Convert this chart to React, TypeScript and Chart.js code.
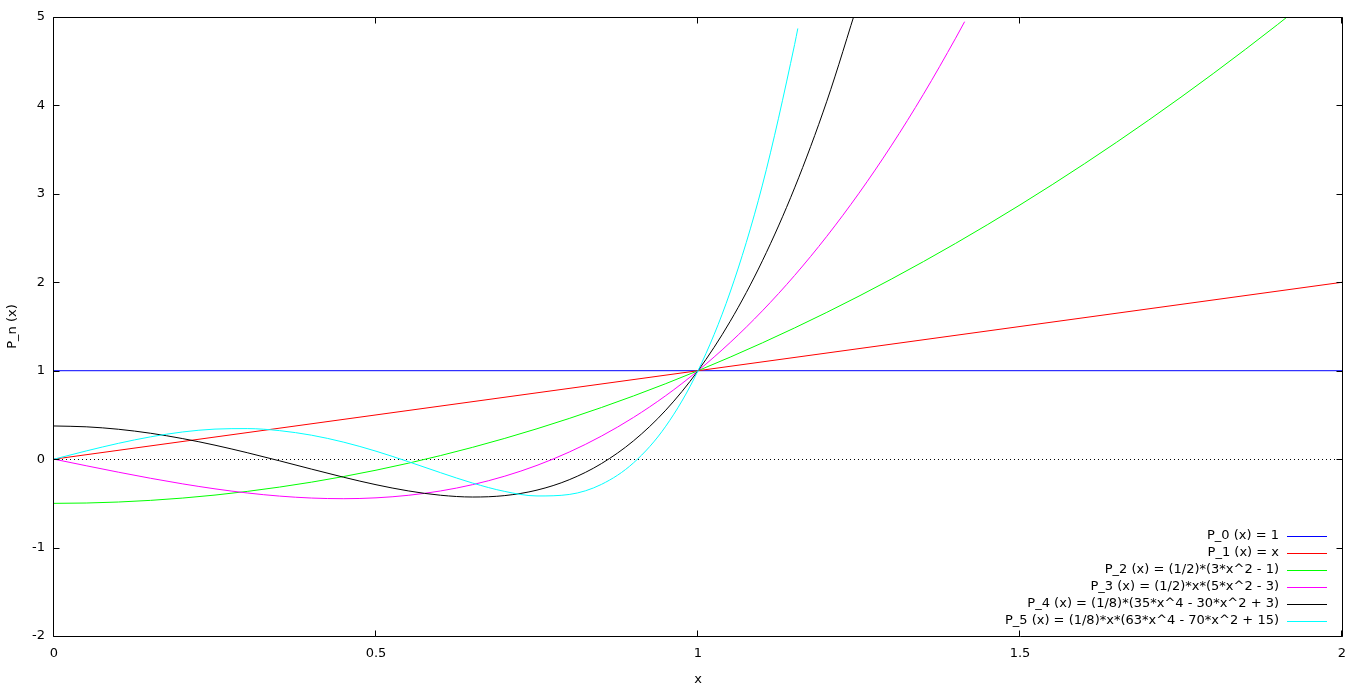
import React, { useEffect, useRef } from "react";
import { Chart, registerables } from "chart.js";

Chart.register(...registerables);

const FONT = '"DejaVu Sans", sans-serif';

// Sample abscissae (step 0.05)
const xSamples = [
  0, 0.05, 0.1, 0.15, 0.2, 0.25, 0.3, 0.35, 0.4, 0.45, 0.5, 0.55, 0.6, 0.65, 0.7, 0.75, 0.8, 0.85, 0.9, 0.95,
  1, 1.05, 1.1, 1.15, 1.2, 1.25, 1.3, 1.35, 1.4, 1.45, 1.5, 1.55, 1.6, 1.65, 1.7, 1.75, 1.8, 1.85, 1.9, 1.95,
];

const seriesLabels = [
  "P_0 (x) = 1",
  "P_1 (x) = x",
  "P_2 (x) = (1/2)*(3*x^2 - 1)",
  "P_3 (x) = (1/2)*x*(5*x^2 - 3)",
  "P_4 (x) = (1/8)*(35*x^4 - 30*x^2 + 3)",
  "P_5 (x) = (1/8)*x*(63*x^4 - 70*x^2 + 15)",
];
const seriesColors = ["#0000ff", "#ff0000", "#00ff00", "#ff00ff", "#000000", "#00ffff"];

const p0X = [0, 2];
const p0Values = [1, 1];

const p1X = [0, 2];
const p1Values = [0, 2];

const p2X = xSamples;
const p2Values = [
  -0.5, -0.49625, -0.485, -0.46625, -0.44, -0.40625, -0.365, -0.31625, -0.26, -0.19625, -0.125, -0.04625, 0.04,
  0.13375, 0.235, 0.34375, 0.46, 0.58375, 0.715, 0.85375, 1, 1.15375, 1.315, 1.48375, 1.66, 1.84375, 2.035,
  2.23375, 2.44, 2.65375, 2.875, 3.10375, 3.34, 3.58375, 3.835, 4.09375, 4.36, 4.63375, 4.915, 5.20375,
];

const p3X = [...xSamples.slice(0, 29), 1.414];
const p3Values = [
  0, -0.0747, -0.1475, -0.2166, -0.28, -0.3359, -0.3825, -0.4178, -0.44, -0.4472, -0.4375, -0.4091, -0.36, -0.2884,
  -0.1925, -0.0703, 0.08, 0.2603, 0.4725, 0.7184, 1, 1.3191, 1.6775, 2.0772, 2.52, 3.0078, 3.5425, 4.1259, 4.76,
  4.947,
];

const p4X = xSamples.slice(0, 26);
const p4Values = [
  0.375, 0.3657, 0.3379, 0.2928, 0.232, 0.1577, 0.0729, -0.0187, -0.113, -0.205, -0.2891, -0.359, -0.408, -0.4284,
  -0.4121, -0.3501, -0.233, -0.0506, 0.2079, 0.5541, 1, 1.5585, 2.2429, 3.0675, 4.047, 5.1968,
];

const p5X = [...xSamples.slice(0, 24), 1.155];
const p5Values = [
  0, 0.0927, 0.1788, 0.2523, 0.3075, 0.3397, 0.3454, 0.3225, 0.2706, 0.1917, 0.0898, -0.0282, -0.1526, -0.2705,
  -0.3652, -0.4164, -0.3995, -0.2857, -0.0411, 0.3727, 1, 1.8902, 3.099, 4.688, 4.8704,
];

const xTicks = [0, 0.5, 1, 1.5, 2];
const yTicks = [-2, -1, 0, 1, 2, 3, 4, 5];

const seriesX = [p0X, p1X, p2X, p3X, p4X, p5X];
const seriesY = [p0Values, p1Values, p2Values, p3Values, p4Values, p5Values];

const framePlugin = {
  id: "gnuframe",
  beforeDatasetsDraw(chart: any) {
    const { ctx, chartArea: a, scales } = chart;
    const y0 = Math.round(scales.y.getPixelForValue(0)) + 0.5;
    ctx.save();
    ctx.strokeStyle = "#000";
    ctx.lineWidth = 1;
    ctx.setLineDash([1, 3]);
    ctx.beginPath();
    ctx.moveTo(a.left, y0);
    ctx.lineTo(a.right, y0);
    ctx.stroke();
    ctx.restore();
  },
  afterDraw(chart: any) {
    const { ctx, chartArea: a, scales } = chart;
    ctx.save();
    ctx.strokeStyle = "#000";
    ctx.lineWidth = 1;
    ctx.setLineDash([]);
    const L = a.left - 0.5, R = a.right + 0.5, T = a.top + 0.5, B = a.bottom + 0.5;
    ctx.beginPath();
    ctx.rect(L, T, R - L, B - T);
    ctx.stroke();
    const tl = 6;
    ctx.beginPath();
    for (const v of yTicks) {
      const py = Math.round(scales.y.getPixelForValue(v)) + 0.5;
      ctx.moveTo(L, py); ctx.lineTo(L + tl, py);
      ctx.moveTo(R, py); ctx.lineTo(R - tl, py);
    }
    for (const v of xTicks) {
      const px = Math.round(scales.x.getPixelForValue(v)) - 0.5;
      ctx.moveTo(px, B); ctx.lineTo(px, B - tl);
      ctx.moveTo(px, T); ctx.lineTo(px, T + tl);
    }
    ctx.stroke();

    // legend
    const n = chart.data.datasets.length;
    ctx.font = `13px ${FONT}`;
    ctx.textAlign = "right";
    ctx.textBaseline = "middle";
    ctx.fillStyle = "#000";
    chart.data.datasets.forEach((ds: any, i: number) => {
      const y = a.bottom - 15 - (n - 1 - i) * 17;
      ctx.fillText(ds.label, a.right - 63, y);
      ctx.strokeStyle = ds.borderColor;
      ctx.beginPath();
      ctx.moveTo(a.right - 55, Math.round(y) + 0.5);
      ctx.lineTo(a.right - 15, Math.round(y) + 0.5);
      ctx.stroke();
    });
    ctx.restore();
  },
};

export default function App() {
  const ref = useRef<HTMLCanvasElement | null>(null);
  useEffect(() => {
    if (!ref.current) return;
    const datasets = seriesLabels.map((label, i) => ({
      label,
      data: seriesX[i].map((x, k) => ({ x, y: seriesY[i][k] })),
      borderColor: seriesColors[i],
      backgroundColor: seriesColors[i],
      borderWidth: 1,
      pointRadius: 0,
      cubicInterpolationMode: "monotone" as const,
      order: seriesLabels.length - 1 - i,
    }));
    const chart = new Chart(ref.current, {
      type: "line",
      data: { datasets },
      options: {
        animation: false,
        responsive: true,
        maintainAspectRatio: false,
        layout: { padding: { top: 17, right: 23, left: 0, bottom: 0 } },
        plugins: { legend: { display: false }, tooltip: { enabled: false } },
        scales: {
          x: {
            type: "linear",
            min: 0,
            max: 2,
            afterFit: (s: any) => { s.height = 54; },
            afterBuildTicks: (s: any) => { s.ticks = xTicks.map((v) => ({ value: v })); },
            grid: { display: false, drawTicks: false },
            border: { display: false },
            ticks: {
              color: "#000",
              font: { family: FONT, size: 13 },
              padding: 10,
              maxRotation: 0,
              callback: (v: any) => String(v),
            },
            title: { display: true, text: "x", color: "#000", font: { family: FONT, size: 13 }, padding: { top: 0, bottom: 3 } },
          },
          y: {
            type: "linear",
            min: -2,
            max: 5,
            afterFit: (s: any) => { s.width = 54; },
            afterBuildTicks: (s: any) => { s.ticks = yTicks.map((v) => ({ value: v })); },
            grid: { display: false, drawTicks: false },
            border: { display: false },
            ticks: { color: "#000", font: { family: FONT, size: 13 }, padding: 9, callback: (v: any) => String(v) },
            title: { display: true, text: "P_n (x)", color: "#000", font: { family: FONT, size: 13 }, padding: { top: 5, bottom: 0 } },
          },
        },
      },
      plugins: [framePlugin],
    });
    return () => chart.destroy();
  }, []);
  return (
    <div style={{ position: "fixed", left: 0, top: 0, width: 1365, height: 690, background: "#fff" }}>
      <canvas ref={ref} />
    </div>
  );
}
